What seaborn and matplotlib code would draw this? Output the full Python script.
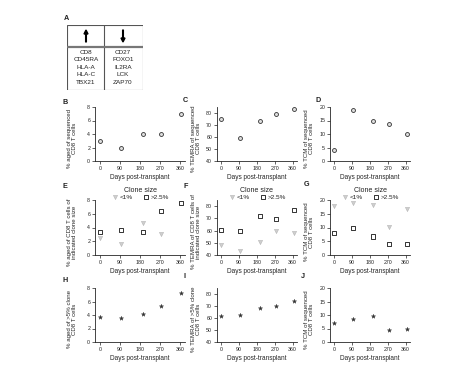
import numpy as np
import pandas as pd
import matplotlib

matplotlib.use("Agg")
import matplotlib.pyplot as plt
import seaborn as sns

# sampling days (post-transplant)
days = [0, 95, 195, 275, 365]
day_ticks = [0, 90, 180, 270, 360]

# row 1: all sequenced CD8 T cells
aged_all = [3.0, 2.0, 4.0, 4.0, 7.0]
temra_all = [75.0, 59.5, 73.0, 79.0, 83.5]
tcm_all = [4.0, 18.8, 14.8, 13.6, 10.1]

# row 2: by clone size
aged_small = [2.5, 1.65, 4.6, 3.05, np.nan]
aged_large = [3.3, 3.65, 3.3, 6.4, 7.55]
temra_small = [48.5, 43.0, 50.7, 59.7, 58.3]
temra_large = [60.5, 59.7, 71.7, 69.5, 77.0]
tcm_small = [17.9, 18.8, 18.2, 10.3, 16.7]
tcm_large = [8.0, 9.8, 6.7, 4.0, 4.0]

# row 3: >5% clones
aged_clone5 = [3.67, 3.5, 4.1, 5.4, 7.2]
temra_clone5 = [61.3, 62.7, 68.0, 69.7, 73.8]
tcm_clone5 = [7.1, 8.7, 9.6, 4.4, 4.9]

genes_up = ["CD8", "CD45RA", "HLA-A", "HLA-C", "TBX21"]
genes_down = ["CD27", "FOXO1", "IL2RA", "LCK", "ZAP70"]

sns.set_theme(style="ticks")
plt.rcParams["font.family"] = ["Liberation Sans", "DejaVu Sans"]
plt.rcParams["text.color"] = "#222222"

W, H = 474, 370
fig = plt.figure(figsize=(W / 100, H / 100), dpi=100)


def px_axes(left, top, width, height):
    return fig.add_axes([left / W, 1 - (top + height) / H, width / W, height / H])


def style_axes(ax, ylim, yticks, ylabel):
    ax.set_xlim(-22, 382)
    ax.set_xticks(day_ticks)
    ax.set_ylim(*ylim)
    ax.set_yticks(yticks)
    ax.set_xlabel("Days post-transplant", fontsize=4.7, labelpad=2)
    ax.set_ylabel(ylabel, fontsize=4.4, labelpad=3, linespacing=1.1)
    ax.yaxis.set_label_coords(-0.2, 0.42)
    ax.tick_params(labelsize=3.8, length=2, width=0.5, pad=1.5, colors="#222222")
    for side in ("left", "bottom"):
        ax.spines[side].set_linewidth(0.6)
    sns.despine(ax=ax)


col_left = [95, 217, 330]
col_width = [90, 80, 80]
row_top = [107, 200, 288]
row_height = [54, 55, 54]

aged_lim, aged_ticks = (0, 8), [0, 2, 4, 6, 8]
temra_lim, temra_ticks = (40, 85), [40, 50, 60, 70, 80]
tcm_lim, tcm_ticks = (0, 20), [0, 5, 10, 15, 20]

circle_kw = dict(marker="o", s=8, facecolor="#dddddd", edgecolor="#333333", linewidth=0.6)
star_kw = dict(marker="*", s=10, color="#333333", edgecolor="#333333", linewidth=0.3)
small_kw = dict(marker="v", s=9, color="#cfcfcf", edgecolor="#b5b5b5", linewidth=0.4)
large_kw = dict(marker="s", s=9, facecolor="none", edgecolor="#333333", linewidth=0.7)

# row 1
row1 = [
    (aged_all, aged_lim, aged_ticks, "% aged of sequenced\nCD8 T cells"),
    (temra_all, temra_lim, temra_ticks, "% TEMRA of sequenced\nCD8 T cells"),
    (tcm_all, tcm_lim, tcm_ticks, "% TCM of sequenced\nCD8 T cells"),
]
for i, (vals, lim, ticks, lab) in enumerate(row1):
    ax = px_axes(col_left[i], row_top[0], col_width[i], row_height[0])
    sns.scatterplot(x=days, y=vals, ax=ax, **circle_kw)
    style_axes(ax, lim, ticks, lab)

# row 2
row2 = [
    (aged_small, aged_large, aged_lim, aged_ticks, "% aged of CD8 T cells of\nindicated clone size"),
    (temra_small, temra_large, temra_lim, temra_ticks, "% TEMRA of CD8 T cells of\nindicated clone size"),
    (tcm_small, tcm_large, tcm_lim, tcm_ticks, "% TCM of sequenced\nCD8 T cells"),
]
for i, (small, large, lim, ticks, lab) in enumerate(row2):
    ax = px_axes(col_left[i], row_top[1], col_width[i], row_height[1])
    sns.scatterplot(x=days, y=small, ax=ax, label="<1%", **small_kw)
    sns.scatterplot(x=days, y=large, ax=ax, label=">2.5%", **large_kw)
    style_axes(ax, lim, ticks, lab)
    ax.legend(title="Clone size", ncol=2, loc="lower center", bbox_to_anchor=(0.5, 0.98),
              frameon=False, fontsize=4.6, title_fontsize=5.0, handletextpad=0.1,
              columnspacing=1.6, borderpad=0.1, labelspacing=0.1, handlelength=1.2,
              borderaxespad=0.1)

# row 3
row3 = [
    (aged_clone5, aged_lim, aged_ticks, "% aged of >5% clone\nCD8 T cells"),
    (temra_clone5, temra_lim, temra_ticks, "% TEMRA of >5% clone\nCD8 T cells"),
    (tcm_clone5, tcm_lim, tcm_ticks, "% TCM of sequenced\nCD8 T cells"),
]
for i, (vals, lim, ticks, lab) in enumerate(row3):
    ax = px_axes(col_left[i], row_top[2], col_width[i], row_height[2])
    sns.scatterplot(x=days, y=vals, ax=ax, **star_kw)
    style_axes(ax, lim, ticks, lab)

# panel letters
letters = [("A", 64, 18), ("B", 63, 103), ("C", 183, 101), ("D", 316, 101),
           ("E", 63, 186), ("F", 183, 186), ("G", 304, 184),
           ("H", 62, 280), ("I", 183, 277), ("J", 301, 277)]
for txt, x, y in letters:
    fig.text(x / W, 1 - y / H, txt, fontsize=5.2, fontweight="bold", ha="left", va="center")

# panel A: gene table
tab = px_axes(67, 25, 76, 65)
tab.set_xlim(0, 76)
tab.set_ylim(65, 0)
tab.axis("off")
tab.add_patch(plt.Rectangle((0, 0), 76, 65, fill=False, edgecolor="#555555", linewidth=0.8))
tab.plot([37, 37], [0, 65], color="#555555", linewidth=0.8)
tab.plot([0, 76], [22, 22], color="#777777", linewidth=1.6)
tab.arrow(19, 17, 0, -12, width=0.7, head_width=4, head_length=4,
          length_includes_head=True, color="black")
tab.arrow(56, 5, 0, 12, width=0.7, head_width=4, head_length=4,
          length_includes_head=True, color="black")
for j, (g_up, g_down) in enumerate(zip(genes_up, genes_down)):
    y = 27.5 + j * 7.4
    tab.text(19, y, g_up, fontsize=4.6, ha="center", va="center")
    tab.text(56, y, g_down, fontsize=4.6, ha="center", va="center")

fig.savefig("out.png", dpi=100)
